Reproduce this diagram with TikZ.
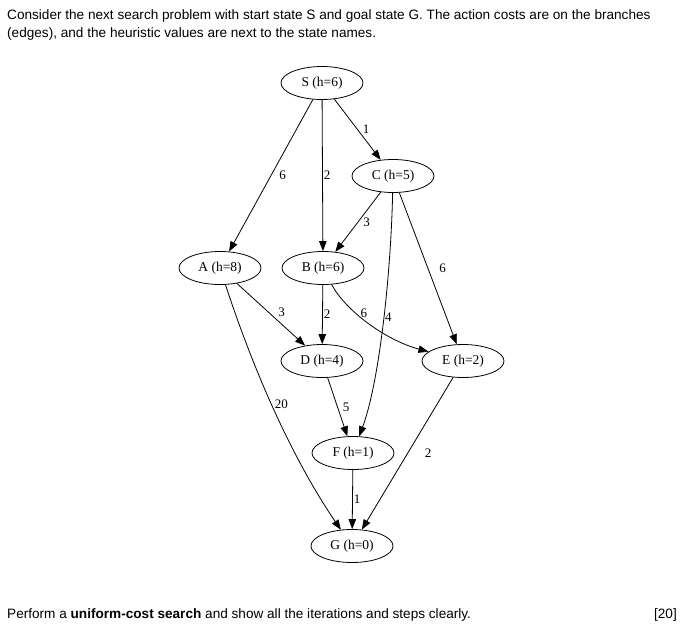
\documentclass[tikz,border=0pt]{standalone}
\usepackage{fontspec}
\setmainfont{Liberation Serif}
\newfontfamily\txtfont{Liberation Sans}
\usetikzlibrary{arrows.meta,shapes.geometric}

\begin{document}
\begin{tikzpicture}[x=1pt, y=-1pt, >={Triangle[length=10pt,width=7.5pt]},
    state/.style={draw, ellipse, line width=0.8pt, minimum width=82pt, minimum height=33pt, inner sep=0pt, font=\fontsize{13.5}{15}\selectfont},
    cost/.style={inner sep=1pt, font=\fontsize{13}{14}\selectfont},
    edge/.style={->, line width=0.8pt},
    txt/.style={anchor=base west, inner sep=0pt, font=\txtfont\fontsize{13.6}{16}\selectfont}]
    \useasboundingbox (0,0) rectangle (700,630);
    \node [txt] (intro1) at (7,19) {Consider the next search problem with start state S and goal state G. The action costs are on the branches};
    \node [txt] (intro2) at (7,37) {(edges), and the heuristic values are next to the state names.};
    \node [txt] (task) at (7,618) {Perform a \textbf{uniform-cost search} and show all the iterations and steps clearly.};
    \node [txt, anchor=base east] (marks) at (677,618) {[20]};

    \node [state] (S) at (322,83) {S (h=6)};
    \node [state] (C) at (393,176) {C (h=5)};
    \node [state] (A) at (220,268) {A (h=8)};
    \node [state] (B) at (323,268) {B (h=6)};
    \node [state] (D) at (322,361) {D (h=4)};
    \node [state] (E) at (463,361) {E (h=2)};
    \node [state] (F) at (353,453) {F (h=1)};
    \node [state] (G) at (352,546) {G (h=0)};

    \draw [edge] (S) -- node [cost, right=7pt] {6} (A);
    \draw [edge] (S) -- node [cost, right=0pt] {2} (B);
    \draw [edge] (S) -- node [cost, right=4pt] {1} (C);
    \draw [edge] (C) -- node [cost, right=4pt] {3} (B);
    \draw [edge] (C) -- node [cost, right=10pt] {6} (E);
    \draw [edge] (C) .. controls (391,270) and (380,380) .. node [cost, pos=0.48, right=0pt] {4} (F);
    \draw [edge] (A) -- node [cost, pos=0.47, right=8pt] {3} (D);
    \draw [edge] (A) .. controls (260,390) and (300,470) .. node [cost, pos=0.42, right=2pt] {20} (G);
    \draw [edge] (B) -- node [cost, right=0pt] {2} (D);
    \draw [edge] (B) .. controls (345,310) and (385,340) .. node [cost, pos=0.45, above=1pt] {6} (E);
    \draw [edge] (D) -- node [cost, right=4pt] {5} (F);
    \draw [edge] (E) -- node [cost, right=16pt] {2} (G);
    \draw [edge] (F) -- node [cost, right=0pt] {1} (G);
\end{tikzpicture}
\end{document}
